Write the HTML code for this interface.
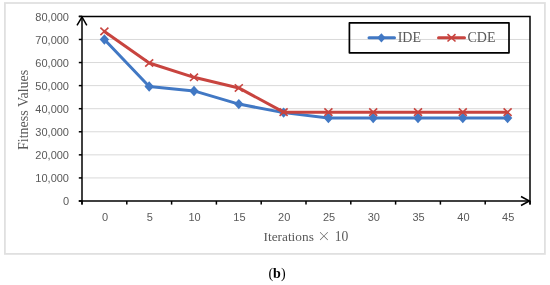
<!DOCTYPE html>
<html><head><meta charset="utf-8"><style>
html,body{margin:0;padding:0;background:#fff;}
body{width:550px;height:285px;overflow:hidden;}
svg{display:block;}
.ax{font-family:"Liberation Sans",sans-serif;font-size:11px;fill:#595959;}
.lg{font-family:"Liberation Serif",serif;font-size:14px;fill:#595959;}
.tt{font-family:"Liberation Serif",serif;font-size:13.33px;fill:#595959;}
.mx{font-family:"Noto Serif CJK SC",serif;}
.cap{font-family:"Liberation Serif",serif;font-size:14px;font-weight:bold;fill:#000;}
</style></head><body>
<svg width="550" height="285" viewBox="0 0 550 285">
<rect x="4.9" y="3.0" width="540" height="250.9" fill="#fff" stroke="#e0e0e0" stroke-width="1.8"/>
<line x1="82.0" y1="177.93" x2="530.0" y2="177.93" stroke="#d9d9d9" stroke-width="1"/>
<line x1="82.0" y1="154.85" x2="530.0" y2="154.85" stroke="#d9d9d9" stroke-width="1"/>
<line x1="82.0" y1="131.78" x2="530.0" y2="131.78" stroke="#d9d9d9" stroke-width="1"/>
<line x1="82.0" y1="108.70" x2="530.0" y2="108.70" stroke="#d9d9d9" stroke-width="1"/>
<line x1="82.0" y1="85.62" x2="530.0" y2="85.62" stroke="#d9d9d9" stroke-width="1"/>
<line x1="82.0" y1="62.55" x2="530.0" y2="62.55" stroke="#d9d9d9" stroke-width="1"/>
<line x1="82.0" y1="39.47" x2="530.0" y2="39.47" stroke="#d9d9d9" stroke-width="1"/>
<line x1="78.8" y1="201.00" x2="82.0" y2="201.00" stroke="#000" stroke-width="1.5"/>
<line x1="78.8" y1="177.93" x2="82.0" y2="177.93" stroke="#000" stroke-width="1.5"/>
<line x1="78.8" y1="154.85" x2="82.0" y2="154.85" stroke="#000" stroke-width="1.5"/>
<line x1="78.8" y1="131.78" x2="82.0" y2="131.78" stroke="#000" stroke-width="1.5"/>
<line x1="78.8" y1="108.70" x2="82.0" y2="108.70" stroke="#000" stroke-width="1.5"/>
<line x1="78.8" y1="85.62" x2="82.0" y2="85.62" stroke="#000" stroke-width="1.5"/>
<line x1="78.8" y1="62.55" x2="82.0" y2="62.55" stroke="#000" stroke-width="1.5"/>
<line x1="78.8" y1="39.47" x2="82.0" y2="39.47" stroke="#000" stroke-width="1.5"/>
<line x1="78.8" y1="16.40" x2="82.0" y2="16.40" stroke="#000" stroke-width="1.5"/>
<line x1="82.00" y1="201.0" x2="82.00" y2="204.6" stroke="#000" stroke-width="1.5"/>
<line x1="126.80" y1="201.0" x2="126.80" y2="204.6" stroke="#000" stroke-width="1.5"/>
<line x1="171.60" y1="201.0" x2="171.60" y2="204.6" stroke="#000" stroke-width="1.5"/>
<line x1="216.40" y1="201.0" x2="216.40" y2="204.6" stroke="#000" stroke-width="1.5"/>
<line x1="261.20" y1="201.0" x2="261.20" y2="204.6" stroke="#000" stroke-width="1.5"/>
<line x1="306.00" y1="201.0" x2="306.00" y2="204.6" stroke="#000" stroke-width="1.5"/>
<line x1="350.80" y1="201.0" x2="350.80" y2="204.6" stroke="#000" stroke-width="1.5"/>
<line x1="395.60" y1="201.0" x2="395.60" y2="204.6" stroke="#000" stroke-width="1.5"/>
<line x1="440.40" y1="201.0" x2="440.40" y2="204.6" stroke="#000" stroke-width="1.5"/>
<line x1="485.20" y1="201.0" x2="485.20" y2="204.6" stroke="#000" stroke-width="1.5"/>
<line x1="530.00" y1="201.0" x2="530.00" y2="204.6" stroke="#000" stroke-width="1.5"/>
<polyline points="78.8,16.4 530.0,16.4 530.0,204.6" fill="none" stroke="#000" stroke-width="1.5"/>
<line x1="82.0" y1="204.6" x2="82.0" y2="16.4" stroke="#000" stroke-width="1.5"/>
<polyline points="77,25.4 82.0,17.0 86.8,25.4" fill="none" stroke="#000" stroke-width="1.5"/>
<line x1="78.8" y1="201.0" x2="530.0" y2="201.0" stroke="#000" stroke-width="1.5"/>
<polyline points="521,196.5 529.4,201.0 521,205.5" fill="none" stroke="#000" stroke-width="1.5"/>
<text x="69.0" y="205.20" text-anchor="end" class="ax">0</text>
<text x="69.0" y="182.12" text-anchor="end" class="ax">10,000</text>
<text x="69.0" y="159.05" text-anchor="end" class="ax">20,000</text>
<text x="69.0" y="135.97" text-anchor="end" class="ax">30,000</text>
<text x="69.0" y="112.90" text-anchor="end" class="ax">40,000</text>
<text x="69.0" y="89.83" text-anchor="end" class="ax">50,000</text>
<text x="69.0" y="66.75" text-anchor="end" class="ax">60,000</text>
<text x="69.0" y="43.67" text-anchor="end" class="ax">70,000</text>
<text x="69.0" y="20.60" text-anchor="end" class="ax">80,000</text>
<text x="105.00" y="220.8" text-anchor="middle" class="ax">0</text>
<text x="149.80" y="220.8" text-anchor="middle" class="ax">5</text>
<text x="194.60" y="220.8" text-anchor="middle" class="ax">10</text>
<text x="239.40" y="220.8" text-anchor="middle" class="ax">15</text>
<text x="284.20" y="220.8" text-anchor="middle" class="ax">20</text>
<text x="329.00" y="220.8" text-anchor="middle" class="ax">25</text>
<text x="373.80" y="220.8" text-anchor="middle" class="ax">30</text>
<text x="418.60" y="220.8" text-anchor="middle" class="ax">35</text>
<text x="463.40" y="220.8" text-anchor="middle" class="ax">40</text>
<text x="508.20" y="220.8" text-anchor="middle" class="ax">45</text>
<polyline points="104.40,39.47 149.20,86.55 194.00,90.93 238.80,104.08 283.60,112.62 328.40,117.93 373.20,117.93 418.00,117.93 462.80,117.93 507.60,117.93" fill="none" stroke="#4178c4" stroke-width="3" stroke-linejoin="round" stroke-linecap="round"/>
<polygon points="104.40,34.27 109.10,39.47 104.40,44.67 99.70,39.47" fill="#4178c4"/>
<polygon points="149.20,81.35 153.90,86.55 149.20,91.75 144.50,86.55" fill="#4178c4"/>
<polygon points="194.00,85.73 198.70,90.93 194.00,96.13 189.30,90.93" fill="#4178c4"/>
<polygon points="238.80,98.88 243.50,104.08 238.80,109.28 234.10,104.08" fill="#4178c4"/>
<polygon points="283.60,107.42 288.30,112.62 283.60,117.82 278.90,112.62" fill="#4178c4"/>
<polygon points="328.40,112.73 333.10,117.93 328.40,123.13 323.70,117.93" fill="#4178c4"/>
<polygon points="373.20,112.73 377.90,117.93 373.20,123.13 368.50,117.93" fill="#4178c4"/>
<polygon points="418.00,112.73 422.70,117.93 418.00,123.13 413.30,117.93" fill="#4178c4"/>
<polygon points="462.80,112.73 467.50,117.93 462.80,123.13 458.10,117.93" fill="#4178c4"/>
<polygon points="507.60,112.73 512.30,117.93 507.60,123.13 502.90,117.93" fill="#4178c4"/>
<polyline points="104.40,31.40 149.20,63.01 194.00,77.32 238.80,87.93 283.60,112.16 328.40,112.16 373.20,112.16 418.00,112.16 462.80,112.16 507.60,112.16" fill="none" stroke="#c8443f" stroke-width="3" stroke-linejoin="round" stroke-linecap="round"/>
<path d="M100.40,27.70L108.40,35.10M108.40,27.70L100.40,35.10" stroke="#c8443f" stroke-width="1.6" fill="none"/>
<path d="M145.20,59.31L153.20,66.71M153.20,59.31L145.20,66.71" stroke="#c8443f" stroke-width="1.6" fill="none"/>
<path d="M190.00,73.62L198.00,81.02M198.00,73.62L190.00,81.02" stroke="#c8443f" stroke-width="1.6" fill="none"/>
<path d="M234.80,84.23L242.80,91.63M242.80,84.23L234.80,91.63" stroke="#c8443f" stroke-width="1.6" fill="none"/>
<path d="M279.60,108.46L287.60,115.86M287.60,108.46L279.60,115.86" stroke="#c8443f" stroke-width="1.6" fill="none"/>
<path d="M324.40,108.46L332.40,115.86M332.40,108.46L324.40,115.86" stroke="#c8443f" stroke-width="1.6" fill="none"/>
<path d="M369.20,108.46L377.20,115.86M377.20,108.46L369.20,115.86" stroke="#c8443f" stroke-width="1.6" fill="none"/>
<path d="M414.00,108.46L422.00,115.86M422.00,108.46L414.00,115.86" stroke="#c8443f" stroke-width="1.6" fill="none"/>
<path d="M458.80,108.46L466.80,115.86M466.80,108.46L458.80,115.86" stroke="#c8443f" stroke-width="1.6" fill="none"/>
<path d="M503.60,108.46L511.60,115.86M511.60,108.46L503.60,115.86" stroke="#c8443f" stroke-width="1.6" fill="none"/>
<rect x="349.4" y="22.8" width="159.6" height="30" fill="none" stroke="#000" stroke-width="1.7" stroke-linejoin="round"/>
<line x1="369" y1="37.8" x2="394.5" y2="37.8" stroke="#4178c4" stroke-width="3" stroke-linecap="round"/>
<polygon points="381.4,33.2 385.6,37.8 381.4,42.4 377.2,37.8" fill="#4178c4"/>
<text x="397.7" y="42.2" class="lg">IDE</text>
<line x1="438.5" y1="37.8" x2="464.5" y2="37.8" stroke="#c8443f" stroke-width="3" stroke-linecap="round"/>
<path d="M447.50,34.10L455.50,41.50M455.50,34.10L447.50,41.50" stroke="#c8443f" stroke-width="1.6" fill="none"/>
<text x="467.5" y="42.2" class="lg">CDE</text>
<text transform="translate(27.8,109.9) rotate(-90)" text-anchor="middle" class="tt" style="font-size:14px">Fitness Values</text>
<text x="263.5" y="240.5" class="tt">Iterations <tspan class="mx">×</tspan><tspan style="font-size:13.6px" dx="0.9"> 10</tspan></text>
<text x="277" y="277.6" text-anchor="middle" class="cap"><tspan font-weight="normal">(</tspan>b<tspan font-weight="normal">)</tspan></text>
</svg>
</body></html>
